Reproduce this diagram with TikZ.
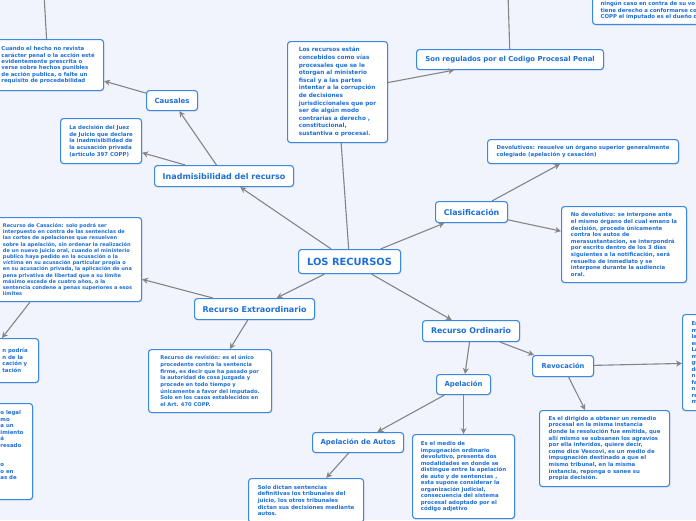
\documentclass[tikz,border=0pt]{standalone}
\usepackage{fontspec}
\setmainfont{DejaVu Sans}
\usetikzlibrary{arrows.meta,shadows,calc}
\definecolor{mapbg}{HTML}{F1F4FD}
\definecolor{mapblue}{HTML}{3A88E2}
\definecolor{maptext}{HTML}{1C6FD8}
\definecolor{mapgray}{HTML}{858585}
\newcommand{\fsz}[2]{\fontsize{#1}{#2}\selectfont}

\begin{document}
\begin{tikzpicture}[x=1pt,y=-1pt,
    box/.style={draw=mapblue,line width=1.1pt,rounded corners=3pt,fill=white,text=maptext,anchor=north west,inner sep=1pt,
      drop shadow={shadow xshift=0.7pt,shadow yshift=-0.9pt,opacity=0.22}},
    topic/.style={box,font=\bfseries\fsz{#1}{#1}},
    note/.style 2 args={box,align=left,font=\bfseries\fsz{#1}{#2}},
    link/.style={mapgray,line width=1.1pt,-{Stealth[length=6pt,width=6pt]}},
    tie/.style={mapgray,line width=1.1pt}]
  \useasboundingbox (0,0) rectangle (696,520);
  \clip (0,0) rectangle (696,520);
  \fill[mapbg] (0,0) rectangle (696,520);
  \coordinate (upleft) at (44,-6);
  \coordinate (upright) at (508,-6);
  \node[note={5.4}{6.33},minimum width=111,minimum height=51] (cuando) at (-8,39) {Cuando el hecho no revista\\carácter penal o la acción esté\\evidentemente prescrita o\\verse sobre hechos punibles\\de acción publica, o falte un\\requisito de procedebilidad};
  \node[topic=7,minimum width=51,minimum height=20] (causales) at (146,90) {Causales};
  \node[note={5.4}{6.7},minimum width=81,minimum height=45] (decision) at (60,118) {La decisión del Juez\\de Juicio que declare\\la inadmisibilidad de\\la acusación privada\\(artículo 397 COPP)};
  \node[topic=8,minimum width=139,minimum height=21] (inad) at (154,165) {Inadmisibilidad del recurso};
  \node[note={5.75}{7.6},minimum width=100,minimum height=101] (concepto) at (287,41) {Los recursos están\\concebidos como vías\\procesales que se le\\otorgan al ministerio\\fiscal y a las partes\\intentar a la corrupción\\de decisiones\\jurisdiccionales que por\\ser de algún modo\\contrarias a derecho ,\\constitucional,\\sustantiva o procesal.};
  \node[topic=6.9,minimum width=187,minimum height=20] (regulados) at (416,49) {Son regulados por el Codigo Procesal Penal};
  \node[note={5.4}{6.3},anchor=south west,text width=120,inner xsep=8,inner ysep=5] (copp) at (592,25) {ningún caso en contra de su vo\\tiene derecho a conformarse co\\COPP el imputado es el dueño d};
  \node[topic=9.9,minimum width=102,minimum height=24] (recursos) at (298,249) {LOS RECURSOS};
  \node[topic=7.9,minimum width=72,minimum height=21] (clasif) at (435,201) {Clasificación};
  \node[note={5.45}{7.3},minimum width=191,minimum height=24] (devol) at (487,139) {Devolutivos: resuelve un órgano superior generalmente\\colegiado (apelación y casación)};
  \node[note={5.4}{6.6},minimum width=125,minimum height=76] (nodevol) at (561,206) {No devolutivo: se interpone ante\\el mismo órgano del cual emano la\\decisión, procede únicamente\\contra los autos de\\merasustantacion, se interpondrá\\por escrito dentro de los 3 días\\siguientes a la notificación, será\\resuelto de inmediato y se\\interpone durante la audiencia\\oral.};
  \node[topic=8,minimum width=120,minimum height=21] (extra) at (194,298) {Recurso Extraordinario};
  \node[note={5.05}{6.2},minimum width=148,minimum height=84] (casacion) at (-7,217) {Recurso de Casación: solo podrá ser\\interpuesto en contra de las sentencias de\\las cortes de apelaciones que resuelven\\sobre la apelación, sin ordenar la realización\\de un nuevo juicio oral, cuando el ministerio\\publico haya pedido en la acusación o la\\víctima en su acusación particular propia o\\en su acusación privada, la aplicación de una\\pena privativa de libertad que a su límite\\máximo excede de cuatro años, o la\\sentencia condene a penas superiores a esos\\límites};
  \node[note={5.2}{6.7},minimum width=123,minimum height=63] (revision) at (148,349) {Recurso de revisión: es el único\\procedente contra la sentencia\\firme, es decir que ha pasado por\\la autoridad de cosa juzgada y\\procede en todo tiempo y\\únicamente a favor del imputado.\\Solo en los casos establecidos en\\el Art. 470 COPP.};
  \node[note={5.4}{6.5},minimum width=47,minimum height=44] (frag1) at (-9,338) {n podría\\n de la\\cación y\\tación};
  \node[note={5.4}{6.5},minimum width=41,minimum height=96] (frag2) at (-9,403) {o legal\\mo\\a un\\imiento\\á\\resado\\~\\~\\o\\o en\\as de\\~\\~};
  \node[topic=7.85,minimum width=97,minimum height=21] (ordin) at (422,320) {Recurso Ordinario};
  \node[topic=6.9,minimum width=54,minimum height=20] (apel) at (436,374) {Apelación};
  \node[topic=6.7,minimum width=61,minimum height=21] (revoc) at (532,355) {Revocación};
  \node[note={5.4}{6.5},text width=60,inner xsep=9,minimum height=96] (revdef) at (682,314) {En\\m\\la\\en\\La\\m\\gu\\de\\n\\fa\\n\\re\\m};
  \node[note={5.4}{6.6},minimum width=130,minimum height=76] (revdesc) at (539,410) {Es el dirigido a obtener un remedio\\procesal en la misma instancia\\donde la resolución fue emitida, que\\allí mismo se subsanen los agravios\\por ella inferidos, quiere decir,\\como dice Vescovi, es un medio de\\impugnación destinado a que el\\mismo tribunal, en la misma\\instancia, reponga o sanee su\\propia decisión.};
  \node[note={5.4}{6.5},minimum width=102,minimum height=84] (medio) at (412,434) {Es el medio de\\impugnación ordinario\\devolutivo, presenta dos\\modalidades en donde se\\distingue entre la apelación\\de auto y de sentencias ,\\esta supone considerar la\\organización judicial,\\consecuencia del sistema\\procesal adoptado por el\\código adjetivo};
  \node[topic=6.9,minimum width=91,minimum height=20] (autos) at (312,432) {Apelación de Autos};
  \node[note={5.45}{6.7},minimum width=115,minimum height=44] (dictan) at (248,478) {Solo dictan sentencias\\definitivas los tribunales del\\juicio, los otros tribunales\\dictan sus decisiones mediante\\autos.};
  \draw[tie] (upleft) -- (cuando);
  \draw[tie] (upright) -- (regulados);
  \draw[tie] (recursos) -- (concepto);
  \draw[link] (concepto) -- (regulados);
  \draw[link] (recursos) -- (inad);
  \draw[link] (inad) -- (causales);
  \draw[link] (inad) -- (decision);
  \draw[link] (causales) -- (cuando);
  \draw[link] (recursos) -- (clasif);
  \draw[link] (clasif) -- (devol);
  \draw[link] (clasif) -- (nodevol);
  \draw[link] (recursos) -- (extra);
  \draw[link] (extra) -- (casacion);
  \draw[link] ($(casacion.south west)+(37,0)$) -- ($(frag1.north west)+(11,0)$);
  \draw[link] (extra) -- (revision);
  \draw[link] (recursos) -- (ordin);
  \draw[link] (ordin) -- (apel);
  \draw[link] (ordin) -- (revoc);
  \draw[link] (revoc) -- (revdef);
  \draw[link] (revoc) -- (revdesc);
  \draw[link] (apel) -- (medio);
  \draw[link] (apel) -- (autos);
  \draw[link] (autos) -- (dictan);
\end{tikzpicture}
\end{document}
